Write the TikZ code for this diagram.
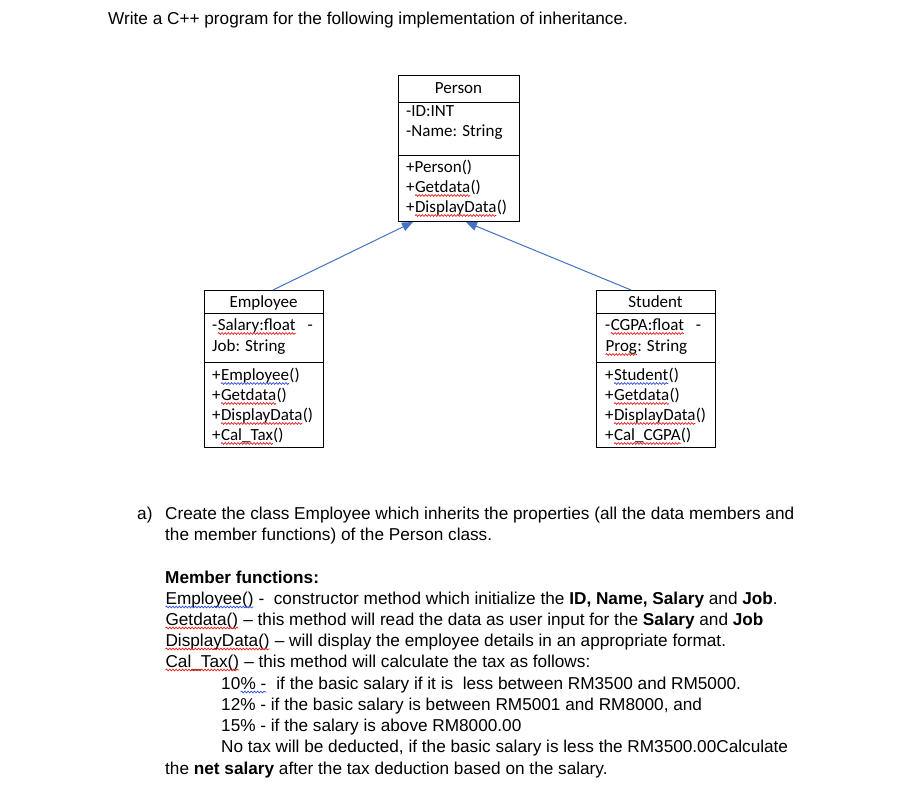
\documentclass[tikz,border=0pt]{standalone}
\usepackage{fontspec}
\setmainfont{Liberation Sans}
\newfontfamily\calibri{Carlito}
\usetikzlibrary{arrows.meta,calc,decorations.pathmorphing}
\definecolor{arrowblue}{HTML}{4472C4}
\definecolor{spellred}{HTML}{E8201A}
\definecolor{gramblue}{HTML}{3050E0}
% wavy proofing underline (as in the reference screenshot)
\newcommand\sq[2][spellred]{\tikz[baseline=(X.base),x=1pt,y=1pt]{%
  \node[inner sep=0pt,outer sep=0pt,anchor=center](X){#2};%
  \draw[#1,line width=0.7pt,decorate,decoration={snake,amplitude=0.9pt,segment length=3.2pt}]
    ([yshift=-3pt]X.base west) -- ([yshift=-3pt]X.base east);}}
\begin{document}
\begin{tikzpicture}[x=1pt,y=-1pt,
  txt/.style={anchor=base west,inner sep=0pt,font=\fontsize{17.2}{20}\selectfont},
  boxtxt/.style={anchor=base west,inner sep=0pt,font=\calibri\fontsize{17}{20}\selectfont},
  boxtitle/.style={anchor=base,inner sep=0pt,font=\calibri\fontsize{17}{20}\selectfont},
  classbox/.style={draw=black,line width=1pt,anchor=north west,inner sep=0pt},
  divider/.style={draw=black,line width=1pt},
  inherit/.style={draw=arrowblue,line width=1pt,-{Triangle[length=11pt,width=9pt]}},
]
\useasboundingbox[fill=white] (0,0) rectangle (918,787);

% title
\node[txt] (title) at (108,24) {Write a C++ program for the following implementation of inheritance.};

% Person class
\node[classbox,minimum width=121pt,minimum height=146pt] (person) at (398,75) {};
\draw[divider] (398,102) -- (519,102);
\draw[divider] (398,155) -- (519,155);
\node[boxtitle] (pname) at (458.5,93.5) {Person};
\node[boxtxt] (pa1) at (406,116.5) {-ID:INT};
\node[boxtxt] (pa2) at (406,136.5) {-Name: String};
\node[boxtxt] (pm1) at (406,172.5) {+Person()};
\node[boxtxt] (pm2) at (406,192.5) {+\sq{Getdata}()};
\node[boxtxt] (pm3) at (406,212.5) {+\sq{DisplayData}()};

% Employee class
\node[classbox,minimum width=119pt,minimum height=157pt] (employee) at (204,290) {};
\draw[divider] (204,313) -- (323,313);
\draw[divider] (204,362) -- (323,362);
\node[boxtitle] (ename) at (263.5,307.5) {Employee};
\node[boxtxt] (ea1) at (212,330.5) {-\sq{Salary:float}\ \ \ -};
\node[boxtxt] (ea2) at (212,351.5) {Job: String};
\node[boxtxt] (em1) at (212,380.5) {+\sq[gramblue]{Employee}()};
\node[boxtxt] (em2) at (212,400.5) {+\sq{Getdata}()};
\node[boxtxt] (em3) at (212,420.5) {+\sq{DisplayData}()};
\node[boxtxt] (em4) at (212,440.5) {+\sq{Cal\_Tax}()};

% Student class
\node[classbox,minimum width=119pt,minimum height=157pt] (student) at (596,290) {};
\draw[divider] (596,313) -- (715,313);
\draw[divider] (596,362) -- (715,362);
\node[boxtitle] (sname) at (655.5,307.5) {Student};
\node[boxtxt] (sa1) at (605,330.5) {-\sq{CGPA:float}\ \ \ -};
\node[boxtxt] (sa2) at (605,351.5) {\sq{Prog}: String};
\node[boxtxt] (sm1) at (605,380.5) {+\sq[gramblue]{Student}()};
\node[boxtxt] (sm2) at (605,400.5) {+\sq{Getdata}()};
\node[boxtxt] (sm3) at (605,420.5) {+\sq{DisplayData}()};
\node[boxtxt] (sm4) at (605,440.5) {+\sq{Cal\_CGPA}()};

% inheritance connectors
\coordinate (empTop) at (273,290);
\coordinate (stuTop) at (631,290);
\coordinate (perL) at (413,222);
\coordinate (perR) at (466,222);
\draw[inherit] (empTop) -- (perL);
\draw[inherit] (stuTop) -- (perR);

% text block
\node[txt] (qa) at (137,519) {a)};
\node[txt] (q1) at (165,519) {Create the class Employee which inherits the properties (all the data members and};
\node[txt] (q2) at (165,540) {the member functions) of the Person class.};
\node[txt] (mf) at (165,583) {\textbf{Member functions:}};
\node[txt] (f1) at (165,604) {\sq[gramblue]{Employee()} -\ \ constructor method which initialize the \textbf{ID, Name, Salary} and \textbf{Job}.};
\node[txt] (f2) at (165,625) {\sq{Getdata()} – this method will read the data as user input for the \textbf{Salary} and \textbf{Job}};
\node[txt] (f3) at (165,646) {\sq{DisplayData()} – will display the employee details in an appropriate format.};
\node[txt] (f4) at (165,667) {\sq{Cal\_Tax()} – this method will calculate the tax as follows:};
\node[txt] (t1) at (221,689) {10\sq[gramblue]{\%\ -}\ \ if the basic salary if it is\ \ less between RM3500 and RM5000.};
\node[txt] (t2) at (221,710) {12\% - if the basic salary is between RM5001 and RM8000, and};
\node[txt] (t3) at (221,731) {15\% - if the salary is above RM8000.00};
\node[txt] (t4) at (221,752) {No tax will be deducted, if the basic salary is less the RM3500.00Calculate};
\node[txt] (t5) at (165,774) {the \textbf{net salary} after the tax deduction based on the salary.};
\end{tikzpicture}
\end{document}
